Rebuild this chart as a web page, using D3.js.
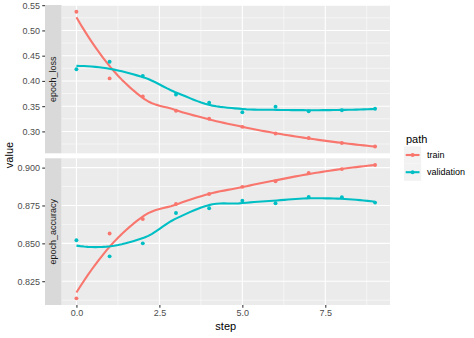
<!DOCTYPE html>
<html>
<head>
<meta charset="utf-8">
<script src="https://cdn.jsdelivr.net/npm/d3@7"></script>
<style>
  html, body { margin: 0; padding: 0; background: #fff; }
  svg { display: block; font-family: "Liberation Sans", Arial, Helvetica, sans-serif; }
</style>
</head>
<body>
<svg id="chart" width="474" height="338"></svg>
<script>
// Training history: loss and accuracy per epoch step
const steps = [0, 1, 2, 3, 4, 5, 6, 7, 8, 9];
const trainLoss = [0.537, 0.405, 0.369, 0.341, 0.325, 0.309, 0.296, 0.287, 0.277, 0.270];
const valLoss = [0.423, 0.438, 0.410, 0.373, 0.357, 0.338, 0.349, 0.340, 0.342, 0.345];
const trainAcc = [0.8137, 0.8565, 0.8660, 0.8760, 0.8826, 0.8873, 0.8910, 0.8965, 0.8990, 0.9017];
const valAcc = [0.8520, 0.8414, 0.8500, 0.8700, 0.8732, 0.8782, 0.8765, 0.8806, 0.8804, 0.8769];

const paths = ["train", "validation"];
const pathColors = ["#F8766D", "#00BFC4"];
const facetNames = ["epoch_loss", "epoch_accuracy"];
const stepTicks = [0, 2.5, 5, 7.5];
const lossTicks = [0.30, 0.35, 0.40, 0.45, 0.50, 0.55];
const accTicks = [0.825, 0.850, 0.875, 0.900];

// Local quadratic fit at x0 (tricube weights); returns [value, slope]
function localFit(xs, ys, x0, span) {
  const n = xs.length;
  const q = Math.floor(n * span + 1e-5);
  const dist = xs.map(x => Math.abs(x - x0));
  const h = dist.slice().sort((a, b) => a - b)[q - 1];
  const A = [[0, 0, 0], [0, 0, 0], [0, 0, 0]];
  const b = [0, 0, 0];
  for (let i = 0; i < n; i++) {
    const u = dist[i] / h;
    if (u >= 1) continue;
    const w = Math.pow(1 - u * u * u, 3);
    const t = xs[i] - x0;
    const basis = [1, t, t * t];
    for (let r = 0; r < 3; r++) {
      b[r] += w * basis[r] * ys[i];
      for (let c = 0; c < 3; c++) A[r][c] += w * basis[r] * basis[c];
    }
  }
  const M = A.map((row, i) => row.concat([b[i]]));
  for (let c = 0; c < 3; c++) {
    let p = c;
    for (let r = c + 1; r < 3; r++) if (Math.abs(M[r][c]) > Math.abs(M[p][c])) p = r;
    [M[c], M[p]] = [M[p], M[c]];
    for (let r = c + 1; r < 3; r++) {
      const f = M[r][c] / M[c][c];
      for (let k = c; k < 4; k++) M[r][k] -= f * M[c][k];
    }
  }
  const s = [0, 0, 0];
  for (let r = 2; r >= 0; r--) {
    let v = M[r][3];
    for (let k = r + 1; k < 3; k++) v -= M[r][k] * s[k];
    s[r] = v / M[r][r];
  }
  return [s[0], s[1]];
}

// kd-tree vertices: padded bounding box, then splits at the median data value
function buildVertices(xs, span, cell) {
  const sorted = xs.slice().sort((a, b) => a - b);
  const lo = sorted[0], hi = sorted[sorted.length - 1];
  const mu = 0.005 * Math.max(hi - lo, 1e-10);
  const verts = [lo - mu, hi + mu];
  const fc = Math.max(1, Math.floor(xs.length * span * cell));
  (function split(l, u, blo, bhi) {
    if (u - l + 1 <= fc) return;
    const m = Math.floor((l + u + 2) / 2) - 1;
    const xi = sorted[m];
    if (xi === blo || xi === bhi) return;
    verts.push(xi);
    split(l, m, blo, xi);
    split(m + 1, u, xi, bhi);
  })(0, sorted.length - 1, lo - mu, hi + mu);
  return verts.sort((a, b) => a - b);
}

// loess curve: vertex fits joined by cubic Hermite interpolation, 80 evaluation points
function smooth(xs, ys) {
  const span = 0.75;
  const verts = buildVertices(xs, span, 0.2);
  const fits = verts.map(v => localFit(xs, ys, v, span));
  const [lo, hi] = d3.extent(xs);
  return d3.range(80).map(i => {
    const x = lo + (hi - lo) * i / 79;
    let j = d3.bisectRight(verts, x) - 1;
    j = Math.max(0, Math.min(verts.length - 2, j));
    const x0 = verts[j], x1 = verts[j + 1], hgt = x1 - x0;
    const s = (x - x0) / hgt;
    const h00 = 2 * s * s * s - 3 * s * s + 1;
    const h10 = s * s * s - 2 * s * s + s;
    const h01 = -2 * s * s * s + 3 * s * s;
    const h11 = s * s * s - s * s;
    const y = h00 * fits[j][0] + h10 * hgt * fits[j][1] + h01 * fits[j + 1][0] + h11 * hgt * fits[j + 1][1];
    return { x, y };
  });
}

const facets = [
  { name: facetNames[0], series: [trainLoss, valLoss], ticks: lossTicks, fmt: d3.format(".2f"), minorStep: 0.025 },
  { name: facetNames[1], series: [trainAcc, valAcc], ticks: accTicks, fmt: d3.format(".3f"), minorStep: 0.0125 }
];

const svg = d3.select("#chart");
const panelLeft = 61.5, panelRight = 390;
const panelTops = [5, 158.3];
const panelBottoms = [153.3, 305];
const stripLeft = 45;

const grey92 = "#EBEBEB";

// shared x scale with 5% expansion
const xExt = d3.extent(steps);
const xPad = (xExt[1] - xExt[0]) * 0.05;
const x = d3.scaleLinear().domain([xExt[0] - xPad, xExt[1] + xPad]).range([panelLeft, panelRight]);

facets.forEach((f, fi) => {
  const top = panelTops[fi], bottom = panelBottoms[fi];
  const curves = f.series.map(ys => smooth(steps, ys));
  const allY = f.series.flat().concat(curves.flat().map(d => d.y));
  const yExt = d3.extent(allY);
  const yPad = (yExt[1] - yExt[0]) * 0.05;
  const y = d3.scaleLinear().domain([yExt[0] - yPad, yExt[1] + yPad]).range([bottom, top]);

  const g = svg.append("g");
  g.append("rect").attr("x", panelLeft).attr("y", top)
    .attr("width", panelRight - panelLeft).attr("height", bottom - top).attr("fill", grey92);

  // minor grid
  const yMinor = d3.range(Math.ceil(y.domain()[0] / f.minorStep) * f.minorStep, y.domain()[1], f.minorStep)
    .filter(v => !f.ticks.some(t => Math.abs(t - v) < 1e-9));
  g.selectAll(".ymin").data(yMinor).join("line")
    .attr("x1", panelLeft).attr("x2", panelRight)
    .attr("y1", d => y(d)).attr("y2", d => y(d))
    .attr("stroke", "#fff").attr("stroke-width", 0.53);
  const xMinor = [1.25, 3.75, 6.25, 8.75];
  g.selectAll(".xmin").data(xMinor).join("line")
    .attr("x1", d => x(d)).attr("x2", d => x(d))
    .attr("y1", top).attr("y2", bottom)
    .attr("stroke", "#fff").attr("stroke-width", 0.53);

  // major grid
  g.selectAll(".ymaj").data(f.ticks).join("line")
    .attr("x1", panelLeft).attr("x2", panelRight)
    .attr("y1", d => y(d)).attr("y2", d => y(d))
    .attr("stroke", "#fff").attr("stroke-width", 1.07);
  g.selectAll(".xmaj").data(stepTicks).join("line")
    .attr("x1", d => x(d)).attr("x2", d => x(d))
    .attr("y1", top).attr("y2", bottom)
    .attr("stroke", "#fff").attr("stroke-width", 1.07);

  // smooth lines
  const line = d3.line().x(d => x(d.x)).y(d => y(d.y));
  curves.forEach((c, si) => {
    g.append("path").datum(c).attr("d", line)
      .attr("fill", "none").attr("stroke", pathColors[si]).attr("stroke-width", 2.1)
      .attr("stroke-linejoin", "round").attr("stroke-linecap", "butt");
  });

  // points
  f.series.forEach((ys, si) => {
    g.selectAll(".pt" + si).data(ys).join("circle")
      .attr("cx", (d, i) => x(steps[i])).attr("cy", d => y(d))
      .attr("r", 1.95).attr("fill", pathColors[si]);
  });

  // strip on the left
  g.append("rect").attr("x", stripLeft).attr("y", top)
    .attr("width", panelLeft - stripLeft).attr("height", bottom - top).attr("fill", "#D9D9D9");
  const sx = (stripLeft + panelLeft) / 2, sy = (top + bottom) / 2;
  g.append("text").attr("transform", `translate(${sx},${sy}) rotate(-90)`)
    .attr("text-anchor", "middle").attr("dy", "0.35em")
    .attr("font-size", 9).attr("fill", "#1A1A1A").text(f.name);

  // y axis
  const yAxis = d3.axisLeft(y).tickValues(f.ticks).tickFormat(f.fmt).tickSizeOuter(0).tickSize(2.75).tickPadding(2.2);
  const ya = g.append("g").attr("transform", `translate(${stripLeft},0)`).call(yAxis);
  ya.select(".domain").remove();
  ya.selectAll("line").attr("stroke", "#333").attr("stroke-width", 1.07);
  ya.selectAll("text").attr("fill", "#4D4D4D").attr("font-size", 9).attr("font-family", null);

  if (fi === facets.length - 1) {
    const xAxis = d3.axisBottom(x).tickValues(stepTicks).tickFormat(d3.format(".1f")).tickSizeOuter(0).tickSize(2.75).tickPadding(2.2);
    const xa = g.append("g").attr("transform", `translate(0,${bottom})`).call(xAxis);
    xa.select(".domain").remove();
    xa.selectAll("line").attr("stroke", "#333").attr("stroke-width", 1.07);
    xa.selectAll("text").attr("fill", "#4D4D4D").attr("font-size", 9).attr("font-family", null);
  }
});

// axis titles
svg.append("text").attr("x", (panelLeft + panelRight) / 2).attr("y", 329.5)
  .attr("text-anchor", "middle").attr("font-size", 11).attr("fill", "#000").text("step");
svg.append("text").attr("transform", `translate(13,${(panelTops[0] + panelBottoms[1]) / 2}) rotate(-90)`)
  .attr("text-anchor", "middle").attr("font-size", 11).attr("fill", "#000").text("value");

// legend
const legend = svg.append("g").attr("transform", "translate(404,0)");
legend.append("text").attr("x", 2).attr("y", 143).attr("font-size", 11).attr("fill", "#000").text("path");
paths.forEach((p, i) => {
  const cy = 155 + i * 17.2;
  legend.append("rect").attr("x", 0).attr("y", cy - 8.6).attr("width", 17.2).attr("height", 17.2).attr("fill", "#F2F2F2");
  legend.append("line").attr("x1", 1.7).attr("x2", 15.5).attr("y1", cy).attr("y2", cy)
    .attr("stroke", pathColors[i]).attr("stroke-width", 2.1);
  legend.append("circle").attr("cx", 8.6).attr("cy", cy).attr("r", 1.95).attr("fill", pathColors[i]);
  legend.append("text").attr("x", 23).attr("y", cy).attr("dy", "0.35em")
    .attr("font-size", 9).attr("fill", "#000").text(p);
});
</script>
</body>
</html>
